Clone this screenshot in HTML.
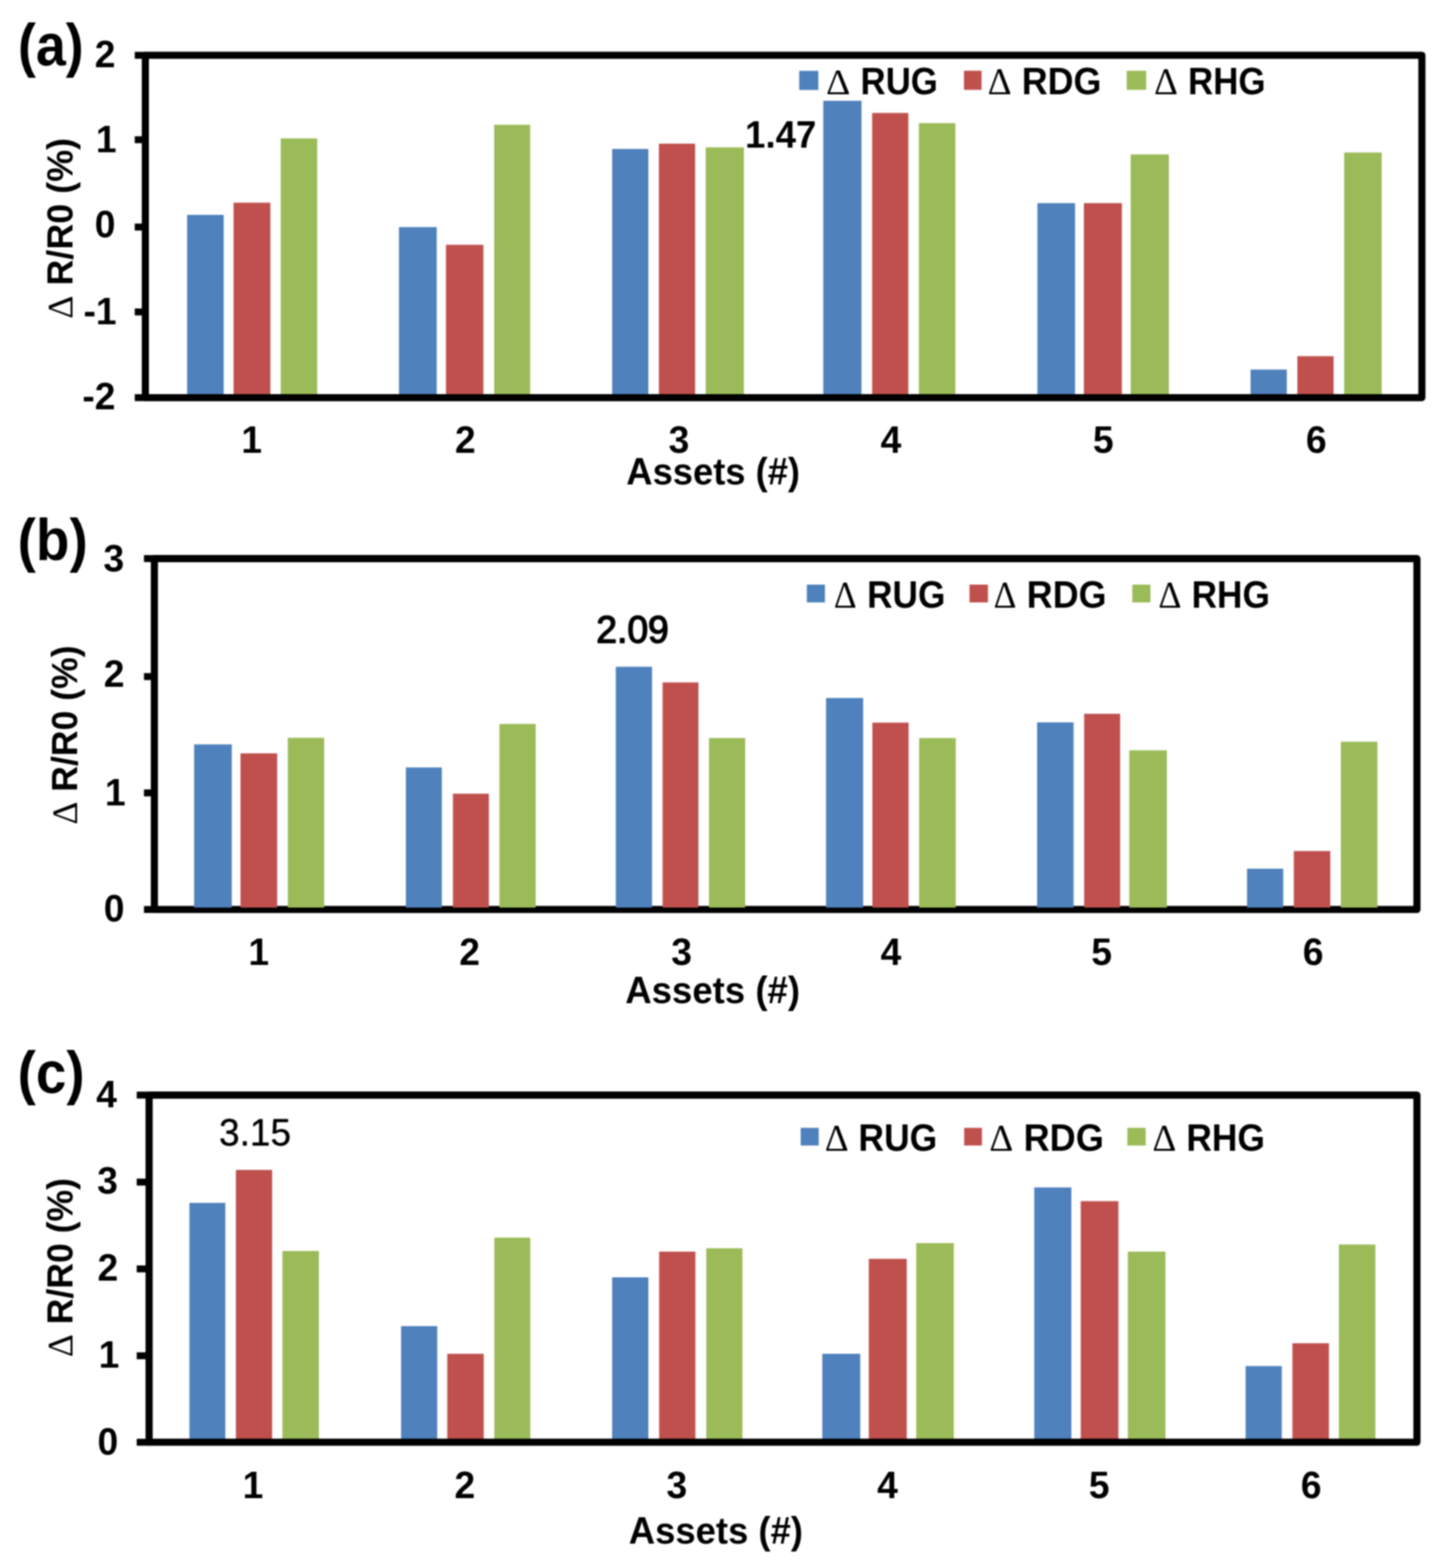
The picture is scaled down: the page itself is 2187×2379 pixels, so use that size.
<!DOCTYPE html>
<html lang="en"><head><meta charset="utf-8"><title>Resistance change by asset</title>
<style>
html,body{margin:0;padding:0;background:#fff}
body{width:2187px;height:2379px;overflow:hidden}
svg{display:block;filter:blur(1.3px)}
text{font-family:"Liberation Sans",sans-serif;font-weight:bold;fill:#000}
.d{font-weight:normal}
.s{font-family:"Liberation Serif",serif;font-weight:normal}
.f{fill:none;stroke:#000;stroke-width:10.8;stroke-linejoin:round}
.k{stroke:#000;stroke-width:10.5;stroke-linecap:butt}
</style></head><body>
<svg width="2187" height="2379" viewBox="0 0 2187 2379">
<rect width="2187" height="2379" fill="#fff"/>
<g>
<rect x="284" y="326" width="55.5" height="273" fill="#4f81bd"/>
<rect x="354.5" y="307.5" width="55.8" height="291.5" fill="#c0504d"/>
<rect x="426" y="210" width="55.5" height="389" fill="#9bbb59"/>
<rect x="605.5" y="344.6" width="57.3" height="254.4" fill="#4f81bd"/>
<rect x="676.8" y="371.4" width="56.8" height="227.6" fill="#c0504d"/>
<rect x="750" y="189.3" width="54.6" height="409.7" fill="#9bbb59"/>
<rect x="929" y="226" width="55" height="373" fill="#4f81bd"/>
<rect x="1000" y="218" width="55" height="381" fill="#c0504d"/>
<rect x="1071" y="223.6" width="58" height="375.4" fill="#9bbb59"/>
<rect x="1249.5" y="152.9" width="58" height="446.1" fill="#4f81bd"/>
<rect x="1323.6" y="171.4" width="55" height="427.6" fill="#c0504d"/>
<rect x="1394.6" y="186.8" width="55.4" height="412.2" fill="#9bbb59"/>
<rect x="1574.5" y="308.2" width="57.1" height="290.8" fill="#4f81bd"/>
<rect x="1645" y="308.2" width="57.7" height="290.8" fill="#c0504d"/>
<rect x="1716" y="234.3" width="58" height="364.7" fill="#9bbb59"/>
<rect x="1898" y="560.7" width="55" height="38.3" fill="#4f81bd"/>
<rect x="1969" y="540.4" width="55" height="58.6" fill="#c0504d"/>
<rect x="2040" y="231.4" width="57" height="367.6" fill="#9bbb59"/>
<rect class="f" x="220.6" y="83.9" width="1937.4" height="519.4"/>
<line class="k" x1="204.5" y1="83.9" x2="220.6" y2="83.9"/>
<text font-size="56.5" transform="translate(143.7 101.6) scale(1 1)">2</text>
<line class="k" x1="204.5" y1="212" x2="220.6" y2="212"/>
<text font-size="56.5" transform="translate(145.6 230.92) scale(1 1)">1</text>
<line class="k" x1="204.5" y1="344.5" x2="220.6" y2="344.5"/>
<text font-size="56.5" transform="translate(143.7 359.82) scale(1 1)">0</text>
<line class="k" x1="204.5" y1="473.3" x2="220.6" y2="473.3"/>
<text font-size="56.5" transform="translate(126.81 492.02) scale(1 1)">-1</text>
<line class="k" x1="204.5" y1="603.3" x2="220.6" y2="603.3"/>
<text font-size="56.5" transform="translate(124.92 621.3) scale(1 1)">-2</text>
<text font-size="56.5" transform="translate(366.33 687) scale(1 1)">1</text>
<text font-size="56.5" transform="translate(690.46 687) scale(1 1)">2</text>
<text font-size="56.5" transform="translate(1014.67 687) scale(1 1)">3</text>
<text font-size="56.5" transform="translate(1336.54 687) scale(1 1)">4</text>
<text font-size="56.5" transform="translate(1658.75 687) scale(1 1)">5</text>
<text font-size="56.5" transform="translate(1981.95 687) scale(1 1)">6</text>
<text font-size="56.5" transform="translate(950.62 735) scale(0.9762 1)">Assets (#)</text>
<text font-size="55" transform="translate(110 483.54) rotate(-90) scale(0.9912 1)"><tspan class="s">Δ</tspan> R/R0 (%)</text>
<text font-size="88.5" transform="translate(27.22 98.5) scale(0.9231 1)">(a)</text>
<rect x="1213" y="107.5" width="29" height="29" fill="#4f81bd"/>
<text class="s" font-size="56" transform="translate(1253.85 142.7) scale(1.0227 1)">Δ</text>
<text font-size="58" transform="translate(1306.04 142.7) scale(0.9105 1)">RUG</text>
<rect x="1463" y="107.3" width="26.7" height="29" fill="#c0504d"/>
<text class="s" font-size="56" transform="translate(1498.89 142.7) scale(1.0069 1)">Δ</text>
<text font-size="58" transform="translate(1550.73 142.7) scale(0.9385 1)">RDG</text>
<rect x="1710" y="107.3" width="29.5" height="29" fill="#9bbb59"/>
<text class="s" font-size="56" transform="translate(1751.39 142.7) scale(1.0069 1)">Δ</text>
<text font-size="58" transform="translate(1803.02 142.7) scale(0.9146 1)">RHG</text>
<text font-size="56.5" transform="translate(1130.83 224) scale(0.9831 1)">1.47</text>
</g>
<g>
<rect class="f" x="234.3" y="847.5" width="1916.2" height="532.4"/>
<rect x="294.6" y="1129.4" width="57.2" height="247.6" fill="#4f81bd"/>
<rect x="365" y="1143" width="55.7" height="234" fill="#c0504d"/>
<rect x="436.8" y="1119.4" width="55.2" height="257.6" fill="#9bbb59"/>
<rect x="616" y="1164.4" width="54.6" height="212.6" fill="#4f81bd"/>
<rect x="687.4" y="1204.2" width="54.6" height="172.8" fill="#c0504d"/>
<rect x="758" y="1098.4" width="55" height="278.6" fill="#9bbb59"/>
<rect x="934.6" y="1011.6" width="55" height="365.4" fill="#4f81bd"/>
<rect x="1005.6" y="1035.4" width="54.4" height="341.6" fill="#c0504d"/>
<rect x="1076" y="1119.8" width="55" height="257.2" fill="#9bbb59"/>
<rect x="1253.7" y="1059" width="56.3" height="318" fill="#4f81bd"/>
<rect x="1324" y="1096.4" width="55" height="280.6" fill="#c0504d"/>
<rect x="1395" y="1119.8" width="55.6" height="257.2" fill="#9bbb59"/>
<rect x="1574" y="1096" width="55.4" height="281" fill="#4f81bd"/>
<rect x="1645.4" y="1083" width="54.6" height="294" fill="#c0504d"/>
<rect x="1713.8" y="1138.4" width="57.2" height="238.6" fill="#9bbb59"/>
<rect x="1892.6" y="1318" width="55" height="59" fill="#4f81bd"/>
<rect x="1963.6" y="1291.2" width="55.4" height="85.8" fill="#c0504d"/>
<rect x="2035" y="1125.4" width="55.5" height="251.6" fill="#9bbb59"/>
<line class="k" x1="218.5" y1="847.5" x2="234.3" y2="847.5"/>
<text font-size="56.5" transform="translate(157.12 867.35) scale(1 1)">3</text>
<line class="k" x1="218.5" y1="1026.5" x2="234.3" y2="1026.5"/>
<text font-size="56.5" transform="translate(157.4 1042.3) scale(1 1)">2</text>
<line class="k" x1="218.5" y1="1203" x2="234.3" y2="1203"/>
<text font-size="56.5" transform="translate(159.3 1222.32) scale(1 1)">1</text>
<line class="k" x1="218.5" y1="1379.9" x2="234.3" y2="1379.9"/>
<text font-size="56.5" transform="translate(157.4 1398.12) scale(1 1)">0</text>
<text font-size="56.5" transform="translate(377.03 1464.2) scale(1 1)">1</text>
<text font-size="56.5" transform="translate(696.96 1464.2) scale(1 1)">2</text>
<text font-size="56.5" transform="translate(1018.67 1464.2) scale(1 1)">3</text>
<text font-size="56.5" transform="translate(1336.54 1464.2) scale(1 1)">4</text>
<text font-size="56.5" transform="translate(1656.25 1464.2) scale(1 1)">5</text>
<text font-size="56.5" transform="translate(1977.25 1464.2) scale(1 1)">6</text>
<text font-size="56.5" transform="translate(948.91 1521.5) scale(0.9826 1)">Assets (#)</text>
<text font-size="55" transform="translate(117 1251.03) rotate(-90) scale(0.982 1)"><tspan class="s">Δ</tspan> R/R0 (%)</text>
<text font-size="88.5" transform="translate(26.84 849.5) scale(0.9404 1)">(b)</text>
<rect x="1224.5" y="887" width="27.5" height="27" fill="#4f81bd"/>
<text class="s" font-size="56" transform="translate(1265.48 921.5) scale(0.9597 1)">Δ</text>
<text font-size="58" transform="translate(1315.99 921.5) scale(0.922 1)">RUG</text>
<rect x="1471.4" y="887" width="28" height="27" fill="#c0504d"/>
<text class="s" font-size="56" transform="translate(1507.98 921.5) scale(0.9597 1)">Δ</text>
<text font-size="58" transform="translate(1558.32 921.5) scale(0.9393 1)">RDG</text>
<rect x="1718.5" y="887" width="27.5" height="27" fill="#9bbb59"/>
<text class="s" font-size="56" transform="translate(1757.95 921.5) scale(0.9755 1)">Δ</text>
<text font-size="58" transform="translate(1808.39 921.5) scale(0.9228 1)">RHG</text>
<text class="d" font-size="57.5" stroke="#000" stroke-width="2.1" stroke-linejoin="round" transform="translate(905.03 974.8) scale(0.9824 1)">2.09</text>
</g>
<g>
<rect x="287.5" y="1825" width="54.5" height="361.5" fill="#4f81bd"/>
<rect x="358" y="1775" width="55" height="411.5" fill="#c0504d"/>
<rect x="428.6" y="1898" width="55.4" height="288.5" fill="#9bbb59"/>
<rect x="608.7" y="2012" width="54.9" height="174.5" fill="#4f81bd"/>
<rect x="678.8" y="2054" width="55.4" height="132.5" fill="#c0504d"/>
<rect x="750.2" y="1877.8" width="54.6" height="308.7" fill="#9bbb59"/>
<rect x="929" y="1938" width="55" height="248.5" fill="#4f81bd"/>
<rect x="1000.4" y="1899" width="55" height="287.5" fill="#c0504d"/>
<rect x="1071.9" y="1893.9" width="54.9" height="292.6" fill="#9bbb59"/>
<rect x="1248" y="2054" width="57.6" height="132.5" fill="#4f81bd"/>
<rect x="1318.6" y="1909.9" width="57.6" height="276.6" fill="#c0504d"/>
<rect x="1390.5" y="1886" width="57.1" height="300.5" fill="#9bbb59"/>
<rect x="1569.7" y="1801.6" width="56.3" height="384.9" fill="#4f81bd"/>
<rect x="1640.2" y="1822.4" width="57.2" height="364.1" fill="#c0504d"/>
<rect x="1711.7" y="1899" width="57.1" height="287.5" fill="#9bbb59"/>
<rect x="1890.5" y="2072.6" width="54.9" height="113.9" fill="#4f81bd"/>
<rect x="1961.5" y="2038" width="55.4" height="148.5" fill="#c0504d"/>
<rect x="2032" y="1888.2" width="55.4" height="298.3" fill="#9bbb59"/>
<rect class="f" x="226.3" y="1661.5" width="1924.2" height="526.7"/>
<line class="k" x1="207.5" y1="1661.5" x2="226.3" y2="1661.5"/>
<text font-size="56.5" transform="translate(145.93 1679.92) scale(1 1)">4</text>
<line class="k" x1="207.5" y1="1793.5" x2="226.3" y2="1793.5"/>
<text font-size="56.5" transform="translate(147.62 1811.35) scale(1 1)">3</text>
<line class="k" x1="207.5" y1="1925.2" x2="226.3" y2="1925.2"/>
<text font-size="56.5" transform="translate(147.9 1943.4) scale(1 1)">2</text>
<line class="k" x1="207.5" y1="2057" x2="226.3" y2="2057"/>
<text font-size="56.5" transform="translate(149.8 2074.92) scale(1 1)">1</text>
<line class="k" x1="207.5" y1="2188.2" x2="226.3" y2="2188.2"/>
<text font-size="56.5" transform="translate(147.9 2206.62) scale(1 1)">0</text>
<text font-size="56.5" transform="translate(368.33 2272.6) scale(1 1)">1</text>
<text font-size="56.5" transform="translate(689.86 2272.6) scale(1 1)">2</text>
<text font-size="56.5" transform="translate(1011.47 2272.6) scale(1 1)">3</text>
<text font-size="56.5" transform="translate(1331.34 2272.6) scale(1 1)">4</text>
<text font-size="56.5" transform="translate(1652.55 2272.6) scale(1 1)">5</text>
<text font-size="56.5" transform="translate(1974.25 2272.6) scale(1 1)">6</text>
<text font-size="56.5" transform="translate(954.22 2341.7) scale(0.9796 1)">Assets (#)</text>
<text font-size="55" transform="translate(110 2059.03) rotate(-90) scale(0.982 1)"><tspan class="s">Δ</tspan> R/R0 (%)</text>
<text font-size="88.5" transform="translate(26.85 1658) scale(0.9382 1)">(c)</text>
<rect x="1215.2" y="1711.2" width="27.4" height="26.8" fill="#4f81bd"/>
<text class="s" font-size="56" transform="translate(1251.69 1746.2) scale(1.0069 1)">Δ</text>
<text font-size="58" transform="translate(1302.76 1746.2) scale(0.9294 1)">RUG</text>
<rect x="1463.3" y="1711.2" width="27" height="26.8" fill="#c0504d"/>
<text class="s" font-size="56" transform="translate(1501.49 1746.2) scale(1.0069 1)">Δ</text>
<text font-size="58" transform="translate(1553.5 1746.2) scale(0.9451 1)">RDG</text>
<rect x="1711" y="1711.2" width="27.8" height="26.8" fill="#9bbb59"/>
<text class="s" font-size="56" transform="translate(1749.09 1746.2) scale(1.0069 1)">Δ</text>
<text font-size="58" transform="translate(1800.57 1746.2) scale(0.9261 1)">RHG</text>
<text class="d" font-size="56.5" stroke="#000" stroke-width="0.5" stroke-linejoin="round" transform="translate(332.55 1738) scale(0.9913 1)">3.15</text>
</g>
</svg>
</body></html>
